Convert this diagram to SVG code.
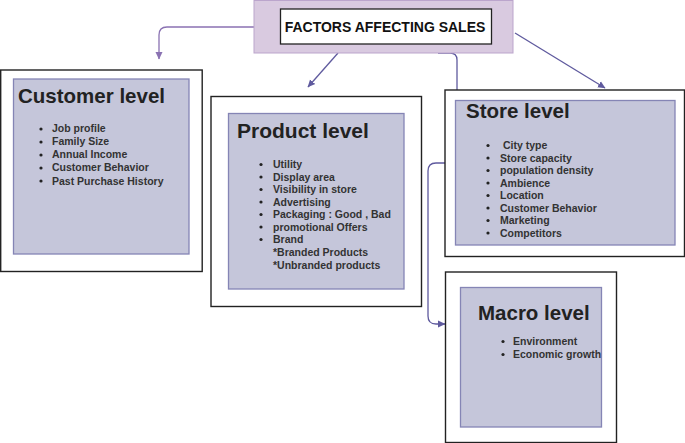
<svg xmlns="http://www.w3.org/2000/svg" width="685" height="443" viewBox="0 0 685 443">
<defs>
<marker id="ahp" markerWidth="8" markerHeight="8" refX="7" refY="4" orient="auto" markerUnits="userSpaceOnUse">
<path d="M0,0.5 L7.5,4 L0,7.5 Z" fill="#8a72b2"/>
</marker>
<marker id="ahb" markerWidth="8" markerHeight="8" refX="7" refY="4" orient="auto" markerUnits="userSpaceOnUse">
<path d="M0,0.5 L7.5,4 L0,7.5 Z" fill="#5f5a9e"/>
</marker>
</defs>
<style>
.outer{fill:#ffffff;stroke:#222222;stroke-width:1.4}
.inner{fill:#c5c6da;stroke:#8585b5;stroke-width:1.3}
.title{font-family:"Liberation Sans",Arial,sans-serif;font-weight:bold;font-size:20.5px;fill:#222222}
.item{font-family:"Liberation Sans",Arial,sans-serif;font-weight:bold;font-size:10.5px;fill:#333333}
.dot{fill:#222222}
.cp{fill:none;stroke:#8a72b2;stroke-width:1.3}
.cb{fill:none;stroke:#5f5a9e;stroke-width:1.3}
</style>
<g id="connectors">
<path class="cp" d="M254,27 H167 Q159,27 159,35 V59" marker-end="url(#ahp)"/>
<path class="cb" d="M338,53 L308,87" marker-end="url(#ahb)"/>
<path class="cb" d="M515,33 L605,88" marker-end="url(#ahb)"/>
<path class="cb" d="M438,53 H450 Q457,53 457,60 V163 H436 Q428,163 428,171 V316 Q428,324 436,324 H445" marker-end="url(#ahb)"/>
</g>
<g id="top">
<rect x="254" y="0.5" width="259" height="52.5" fill="#d9cae0" stroke="#bba5cc" stroke-width="1"/>
<rect x="280.5" y="9" width="211" height="35" fill="#ffffff" stroke="#222222" stroke-width="1.3"/>
<text x="385" y="32" text-anchor="middle" font-family="Liberation Sans, Arial, sans-serif" font-weight="bold" font-size="14" fill="#111111">FACTORS AFFECTING SALES</text>
</g>
<g id="customer">
<rect class="outer" x="0.7" y="70" width="201.5" height="201.5"/>
<rect class="inner" x="13.5" y="79" width="175.5" height="175"/>
<text class="title" x="18" y="103">Customer level</text>
<circle class="dot" cx="41" cy="129" r="1.6"/><text class="item" x="52" y="132">Job profile</text>
<circle class="dot" cx="41" cy="142" r="1.6"/><text class="item" x="52" y="145">Family Size</text>
<circle class="dot" cx="41" cy="155" r="1.6"/><text class="item" x="52" y="158">Annual Income</text>
<circle class="dot" cx="41" cy="168" r="1.6"/><text class="item" x="52" y="171">Customer Behavior</text>
<circle class="dot" cx="41" cy="181" r="1.6"/><text class="item" x="52" y="184.5">Past Purchase History</text>
</g>
<g id="product">
<rect class="outer" x="211" y="96.5" width="210.5" height="210"/>
<rect class="inner" x="228.5" y="113.5" width="175.5" height="175.5"/>
<text class="title" x="237" y="138" style="font-size:21px">Product level</text>
<circle class="dot" cx="261" cy="164.5" r="1.6"/><text class="item" x="273" y="168">Utility</text>
<circle class="dot" cx="261" cy="177" r="1.6"/><text class="item" x="273" y="180.5">Display area</text>
<circle class="dot" cx="261" cy="189.5" r="1.6"/><text class="item" x="273" y="193">Visibility in store</text>
<circle class="dot" cx="261" cy="202" r="1.6"/><text class="item" x="273" y="205.5">Advertising</text>
<circle class="dot" cx="261" cy="214.5" r="1.6"/><text class="item" x="273" y="218">Packaging : Good , Bad</text>
<circle class="dot" cx="261" cy="227" r="1.6"/><text class="item" x="273" y="230.5">promotional Offers</text>
<circle class="dot" cx="261" cy="239.5" r="1.6"/><text class="item" x="273" y="243">Brand</text>
<text class="item" x="273" y="255.5">*Branded Products</text>
<text class="item" x="273" y="268.5">*Unbranded products</text>
</g>
<g id="store">
<rect class="outer" x="445" y="90" width="239.5" height="166.5"/>
<rect class="inner" x="455.5" y="100.5" width="219.5" height="144.5"/>
<text class="title" x="466" y="118">Store level</text>
<circle class="dot" cx="488" cy="145.5" r="1.6"/><text class="item" x="500" y="149" xml:space="preserve"> City type</text>
<circle class="dot" cx="488" cy="158" r="1.6"/><text class="item" x="500" y="161.5">Store capacity</text>
<circle class="dot" cx="488" cy="170.5" r="1.6"/><text class="item" x="500" y="174">population density</text>
<circle class="dot" cx="488" cy="183" r="1.6"/><text class="item" x="500" y="186.5">Ambience</text>
<circle class="dot" cx="488" cy="195.5" r="1.6"/><text class="item" x="500" y="199">Location</text>
<circle class="dot" cx="488" cy="208" r="1.6"/><text class="item" x="500" y="211.5">Customer Behavior</text>
<circle class="dot" cx="488" cy="220.5" r="1.6"/><text class="item" x="500" y="224">Marketing</text>
<circle class="dot" cx="488" cy="233" r="1.6"/><text class="item" x="500" y="236.5">Competitors</text>
</g>
<g id="macro">
<rect class="outer" x="445.5" y="272" width="171" height="170.5"/>
<rect class="inner" x="460.5" y="287.5" width="141" height="139.5"/>
<text class="title" x="478" y="320">Macro level</text>
<circle class="dot" cx="503" cy="341.5" r="1.6"/><text class="item" x="513" y="345">Environment</text>
<circle class="dot" cx="503" cy="354.5" r="1.6"/><text class="item" x="513" y="358">Economic growth</text>
</g>
</svg>
